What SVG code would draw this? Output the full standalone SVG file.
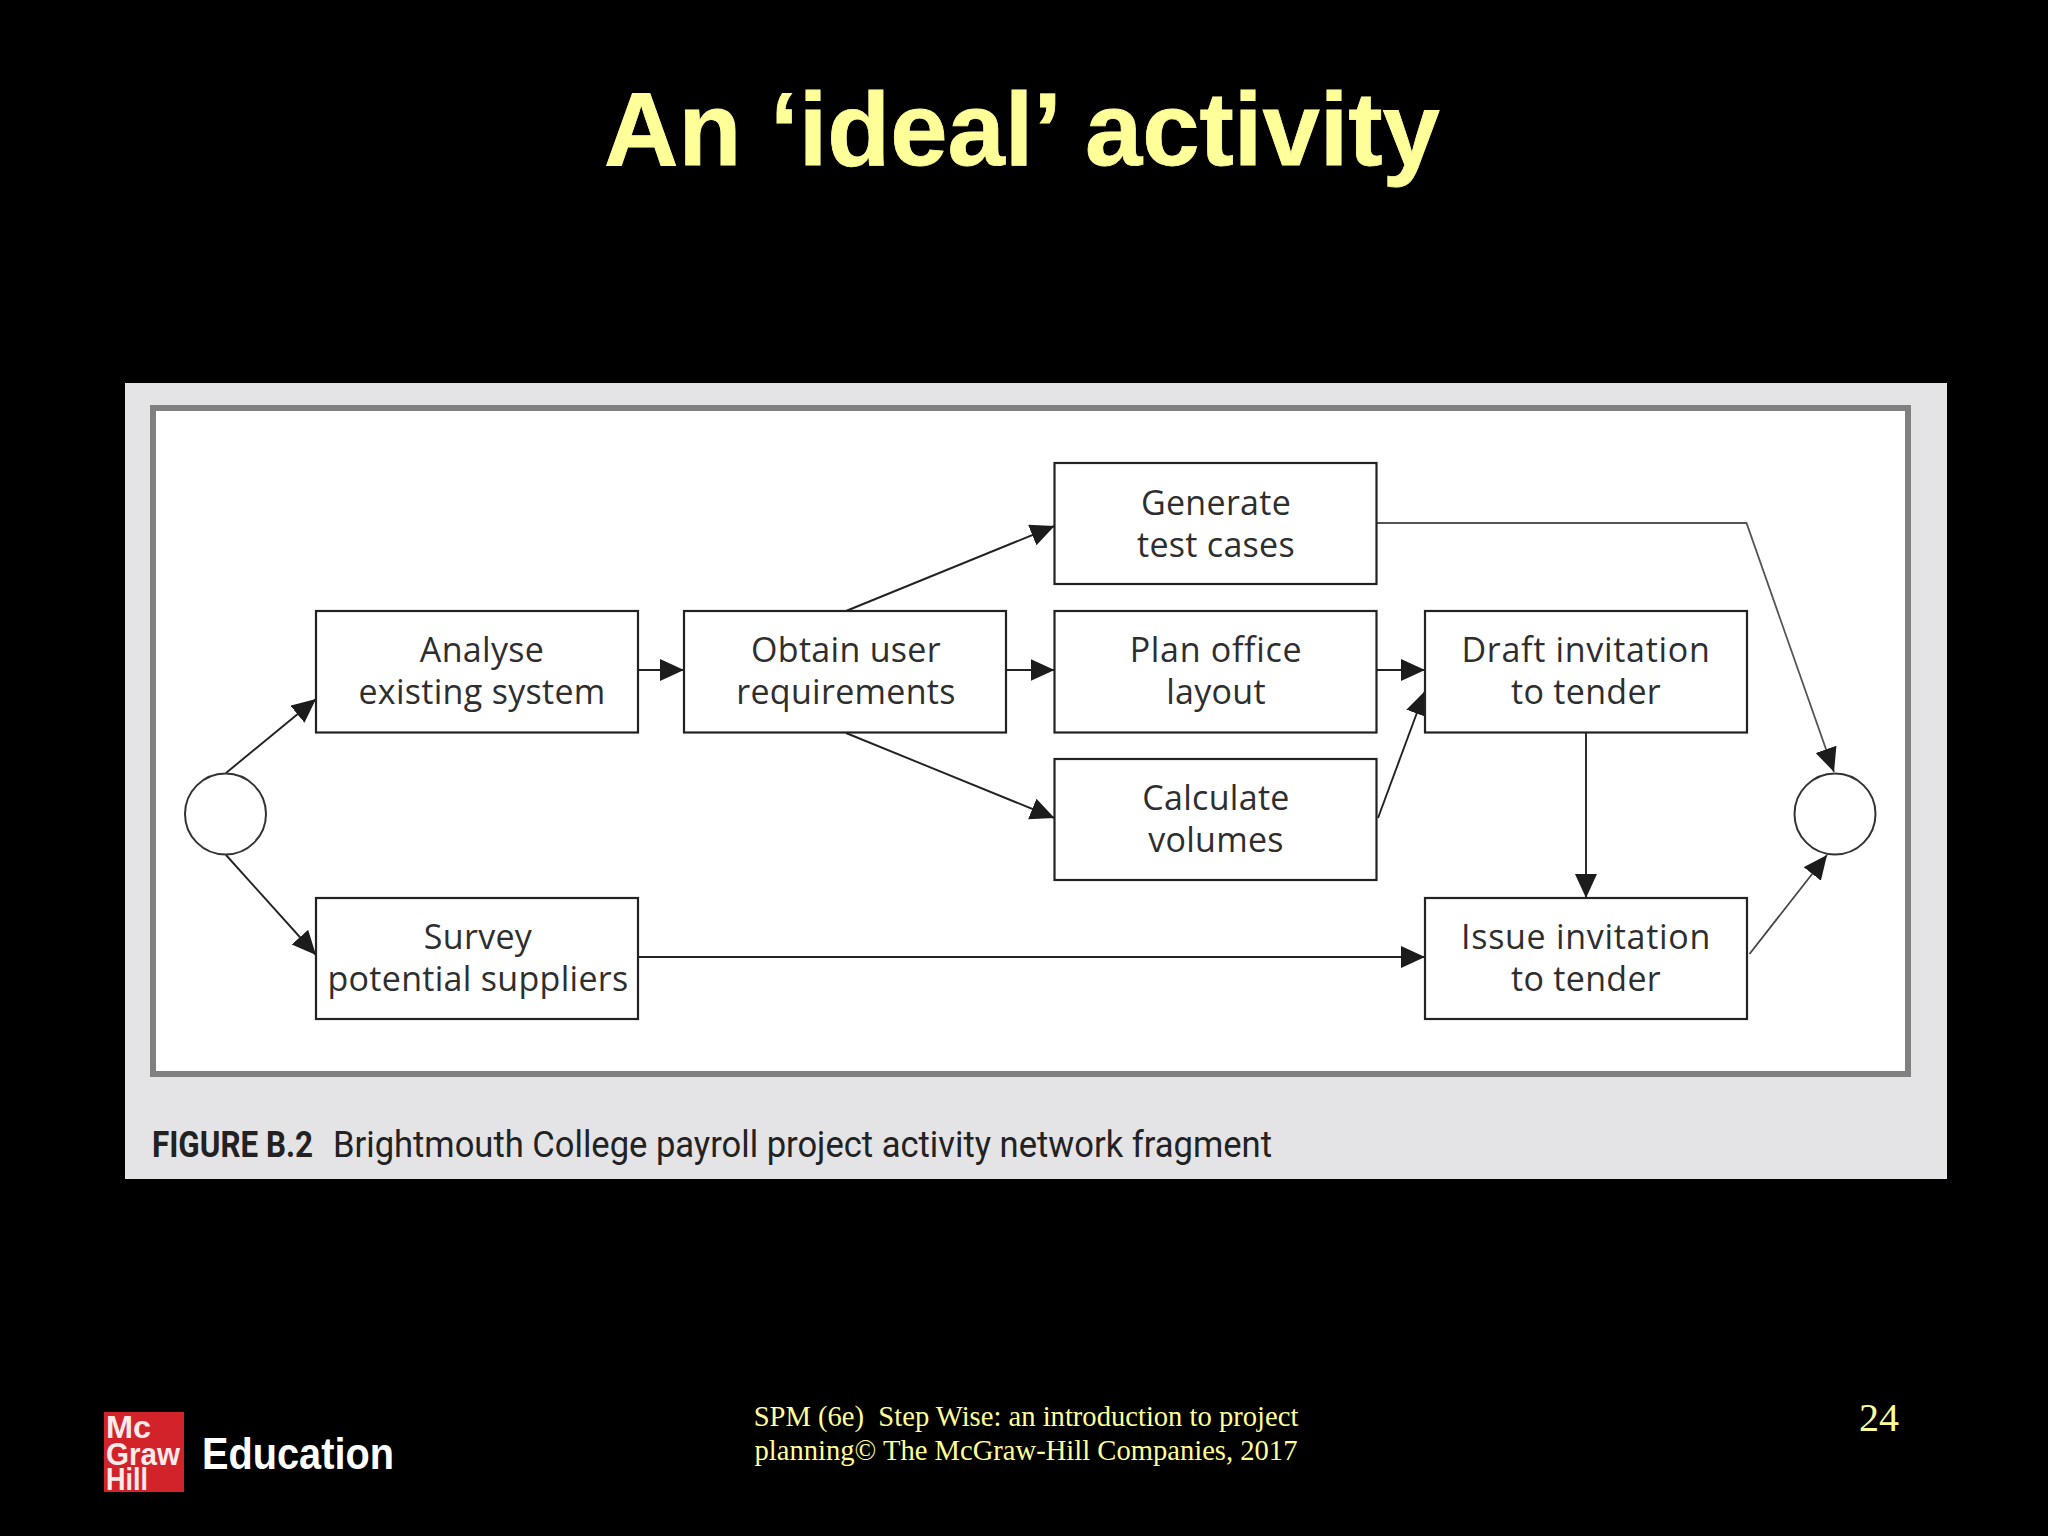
<svg xmlns="http://www.w3.org/2000/svg" width="2048" height="1536" viewBox="0 0 2048 1536">
<style>
.box{fill:#fff;stroke:#222;stroke-width:2.200}
.ev{fill:#fff;stroke:#333;stroke-width:2}
.lbl{font-family:"Open Sans","Liberation Sans",sans-serif;font-size:34px;letter-spacing:.3px;fill:#2e2e2e;text-anchor:middle}
.wide{letter-spacing:.7px}
.con{fill:none;stroke:#222;stroke-width:1.900;marker-end:url(#ah)}
.foot{font-family:"Liberation Serif",serif;font-size:28.600px;fill:#ffff99;text-anchor:middle}
.cap{font-family:"Roboto","Liberation Sans",sans-serif;font-size:36px;fill:#222}
.logo{font-family:"Liberation Sans",sans-serif;font-weight:bold;font-size:32px;fill:#fbeaea}
</style>
<defs>
<marker id="ah" markerUnits="userSpaceOnUse" markerWidth="26" markerHeight="24" refX="24" refY="11" orient="auto">
<path d="M0 0L24 11L0 22Z" fill="#1c1c1c"/>
</marker>
</defs>
<rect width="2048" height="1536" fill="#000"/>
<text x="1022" y="165" text-anchor="middle" font-family="Liberation Sans,sans-serif" font-weight="bold" font-size="103" fill="#ffff99" stroke="#ffff99" stroke-width="0.800">An ‘ideal’ activity</text>
<rect x="125" y="383" width="1822" height="796" fill="#e4e3e5"/>
<rect x="153" y="408" width="1755" height="666" fill="#fff" stroke="#808080" stroke-width="6"/>
<g id="connectors">
<path class="con" d="M226 773L316 699"/>
<path class="con" d="M226 855L316 955"/>
<path class="con" d="M638 670H684"/>
<path class="con" d="M846 611L1054.500 526"/>
<path class="con" d="M846 733L1054.500 818"/>
<path class="con" d="M1007 670H1054.500"/>
<path class="con" d="M1377 670H1425"/>
<path class="con" d="M1378 818L1425 691"/>
<path class="con" style="stroke:#555;stroke-width:1.800" d="M1377 523H1746.500L1834 772"/>
<path class="con" d="M1586 733V898"/>
<path class="con" d="M638 957H1425"/>
<path class="con" style="stroke:#444;stroke-width:1.800" d="M1749.500 954L1827 855"/>
</g>
<g id="start"><circle class="ev" cx="225.500" cy="814" r="40.500"/></g>
<g id="end"><circle class="ev" cx="1835" cy="814" r="40.500"/></g>
<g id="analyse"><rect class="box" x="316" y="611" width="322" height="121.500"/><text class="lbl" x="482" y="662">Analyse</text><text class="lbl" x="482" y="704">existing system</text></g>
<g id="obtain"><rect class="box" x="684" y="611" width="322" height="121.500"/><text class="lbl" x="846" y="662">Obtain user</text><text class="lbl" x="846" y="704">requirements</text></g>
<g id="generate"><rect class="box" x="1054.500" y="463" width="322" height="121"/><text class="lbl" x="1216" y="515">Generate</text><text class="lbl" x="1216" y="557">test cases</text></g>
<g id="plan"><rect class="box" x="1054.500" y="611" width="322" height="121.500"/><text class="lbl wide" x="1216" y="662">Plan office</text><text class="lbl" x="1216" y="704">layout</text></g>
<g id="calculate"><rect class="box" x="1054.500" y="759" width="322" height="121"/><text class="lbl" x="1216" y="810">Calculate</text><text class="lbl" x="1216" y="852">volumes</text></g>
<g id="draft"><rect class="box" x="1425" y="611" width="322" height="121.500"/><text class="lbl wide" x="1586" y="662">Draft invitation</text><text class="lbl" x="1586" y="704">to tender</text></g>
<g id="survey"><rect class="box" x="316" y="898" width="322" height="121"/><text class="lbl" x="478" y="949">Survey</text><text class="lbl" x="478" y="991">potential suppliers</text></g>
<g id="issue"><rect class="box" x="1425" y="898" width="322" height="121"/><text class="lbl wide" x="1586" y="949">Issue invitation</text><text class="lbl" x="1586" y="991">to tender</text></g>
<text class="cap" x="152" y="1157" font-weight="bold" textLength="161" lengthAdjust="spacingAndGlyphs">FIGURE B.2</text>
<text class="cap" x="333" y="1157" textLength="939" lengthAdjust="spacingAndGlyphs">Brightmouth College payroll project activity network fragment</text>
<text class="foot" x="1026" y="1426" xml:space="preserve">SPM (6e)  Step Wise: an introduction to project</text>
<text class="foot" x="1026" y="1460">planning© The McGraw-Hill Companies, 2017</text>
<text x="1879" y="1431" text-anchor="middle" font-family="Liberation Serif,serif" font-size="40" fill="#ffff99">24</text>
<g id="logo">
<rect x="104" y="1412" width="80" height="80" fill="#d2232a"/>
<text class="logo" x="106" y="1438" textLength="45" lengthAdjust="spacingAndGlyphs">Mc</text>
<text class="logo" x="106" y="1465" textLength="74" lengthAdjust="spacingAndGlyphs">Graw</text>
<text class="logo" x="106" y="1490" textLength="42" lengthAdjust="spacingAndGlyphs">Hill</text>
<text x="202" y="1469" font-family="Liberation Sans,sans-serif" font-weight="bold" font-size="44" fill="#fff" textLength="192" lengthAdjust="spacingAndGlyphs">Education</text>
</g>
</svg>
